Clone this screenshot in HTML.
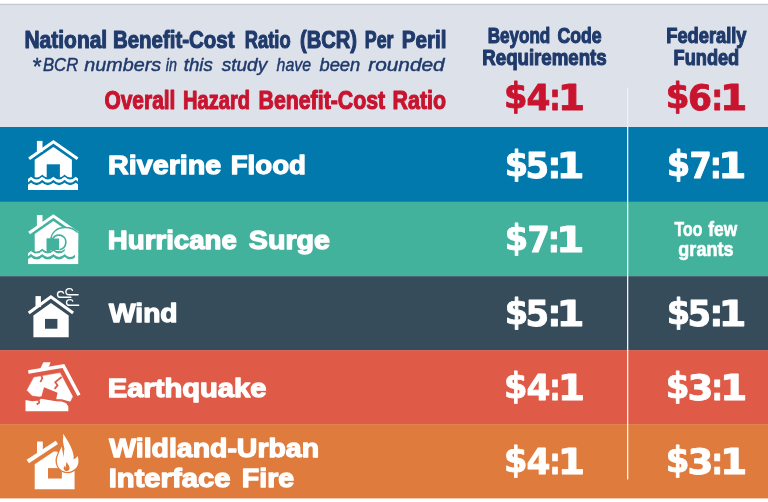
<!DOCTYPE html>
<html lang="en"><head><meta charset="utf-8">
<title>National Benefit-Cost Ratio (BCR) Per Peril</title>
<style>html,body{margin:0;padding:0;background:#fff;}body{width:768px;height:502px;overflow:hidden;}svg{display:block;}</style>
</head><body>
<svg width="768" height="502" viewBox="0 0 768 502">
<rect x="0" y="0" width="768" height="502" fill="#ffffff"/>
<rect x="0" y="3.8" width="768" height="124" fill="#dde1ea"/>
<rect x="0" y="3.8" width="768" height="1.4" fill="#c6cad1"/>
<rect x="0" y="127.0" width="768" height="75.00" fill="#0279ad"/>
<rect x="0" y="201.7" width="768" height="74.80" fill="#43b29d"/>
<rect x="0" y="276.2" width="768" height="74.30" fill="#364c5b"/>
<rect x="0" y="350.2" width="768" height="74.30" fill="#df5a47"/>
<rect x="0" y="424.2" width="768" height="74.60" fill="#df7b3c"/>
<rect x="0" y="498.5" width="768" height="4" fill="#ffffff"/>
<rect x="627" y="87.5" width="1.3" height="39.5" fill="#eef0f5"/>
<rect x="627" y="127" width="1.3" height="352.5" fill="#ffffff" fill-opacity="0.92"/>
<text y="48.00" font-size="23.90" fill="#1f3a6b" font-weight="bold" stroke="#1f3a6b" stroke-width="1.1" stroke-linejoin="round" font-family='"Liberation Sans", sans-serif'><tspan x="24.43" textLength="82.78" lengthAdjust="spacingAndGlyphs">National</tspan> <tspan x="112.92" textLength="121.58" lengthAdjust="spacingAndGlyphs">Benefit-Cost</tspan> <tspan x="244.71" textLength="45.93" lengthAdjust="spacingAndGlyphs">Ratio</tspan> <tspan x="299.94" textLength="57.12" lengthAdjust="spacingAndGlyphs">(BCR)</tspan> <tspan x="364.75" textLength="28.72" lengthAdjust="spacingAndGlyphs">Per</tspan> <tspan x="401.66" textLength="44.75" lengthAdjust="spacingAndGlyphs">Peril</tspan></text>
<text y="71.00" font-size="18.50" fill="#1f3a6b" font-weight="normal" font-style="italic" stroke="#1f3a6b" stroke-width="0.45" stroke-linejoin="round" font-family='"Liberation Sans", sans-serif'><tspan x="31.75" dy="4.0" font-size="24.0" textLength="8.93" lengthAdjust="spacingAndGlyphs">*</tspan><tspan x="42.92" dy="-4.0" textLength="35.34" lengthAdjust="spacingAndGlyphs">BCR</tspan> <tspan x="84.38" textLength="76.80" lengthAdjust="spacingAndGlyphs">numbers</tspan> <tspan x="165.87" textLength="11.16" lengthAdjust="spacingAndGlyphs">in</tspan> <tspan x="183.78" textLength="29.09" lengthAdjust="spacingAndGlyphs">this</tspan> <tspan x="221.68" textLength="45.55" lengthAdjust="spacingAndGlyphs">study</tspan> <tspan x="276.55" textLength="34.50" lengthAdjust="spacingAndGlyphs">have</tspan> <tspan x="319.45" textLength="40.79" lengthAdjust="spacingAndGlyphs">been</tspan> <tspan x="368.26" textLength="76.44" lengthAdjust="spacingAndGlyphs">rounded</tspan></text>
<text y="109.00" font-size="25.60" fill="#c8142f" font-weight="bold" stroke="#c8142f" stroke-width="1.1" stroke-linejoin="round" font-family='"Liberation Sans", sans-serif'><tspan x="104.41" textLength="71.03" lengthAdjust="spacingAndGlyphs">Overall</tspan> <tspan x="183.09" textLength="67.00" lengthAdjust="spacingAndGlyphs">Hazard</tspan> <tspan x="258.51" textLength="126.69" lengthAdjust="spacingAndGlyphs">Benefit-Cost</tspan> <tspan x="392.61" textLength="53.45" lengthAdjust="spacingAndGlyphs">Ratio</tspan></text>
<text y="43.00" font-size="21.20" fill="#1f3a6b" font-weight="bold" stroke="#1f3a6b" stroke-width="1.1" stroke-linejoin="round" font-family='"Liberation Sans", sans-serif'><tspan x="487.70" textLength="62.55" lengthAdjust="spacingAndGlyphs">Beyond</tspan> <tspan x="557.44" textLength="44.08" lengthAdjust="spacingAndGlyphs">Code</tspan></text>
<text y="65.00" font-size="21.20" fill="#1f3a6b" font-weight="bold" stroke="#1f3a6b" stroke-width="1.1" stroke-linejoin="round" font-family='"Liberation Sans", sans-serif'><tspan x="482.29" textLength="124.43" lengthAdjust="spacingAndGlyphs">Requirements</tspan></text>
<text y="43.00" font-size="21.20" fill="#1f3a6b" font-weight="bold" stroke="#1f3a6b" stroke-width="1.1" stroke-linejoin="round" font-family='"Liberation Sans", sans-serif'><tspan x="666.21" textLength="80.35" lengthAdjust="spacingAndGlyphs">Federally</tspan></text>
<text y="65.00" font-size="21.20" fill="#1f3a6b" font-weight="bold" stroke="#1f3a6b" stroke-width="1.1" stroke-linejoin="round" font-family='"Liberation Sans", sans-serif'><tspan x="673.62" textLength="65.62" lengthAdjust="spacingAndGlyphs">Funded</tspan></text>
<text y="110.00" font-size="35.20" fill="#c8142f" font-weight="bold" stroke="#c8142f" stroke-width="0.8" stroke-linejoin="round" font-family='"DejaVu Sans Condensed", "DejaVu Sans", "Liberation Sans", sans-serif'><tspan x="504.07" dy="-2.0" textLength="23.52" lengthAdjust="spacingAndGlyphs">$</tspan><tspan x="526.42" dy="2.0" textLength="23.95" lengthAdjust="spacingAndGlyphs">4</tspan><tspan x="549.54" textLength="11.02" lengthAdjust="spacingAndGlyphs">:</tspan><tspan x="557.82" textLength="27.34" lengthAdjust="spacingAndGlyphs">1</tspan></text>
<text y="110.00" font-size="35.20" fill="#c8142f" font-weight="bold" stroke="#c8142f" stroke-width="0.8" stroke-linejoin="round" font-family='"DejaVu Sans Condensed", "DejaVu Sans", "Liberation Sans", sans-serif'><tspan x="665.84" dy="-2.0" textLength="23.77" lengthAdjust="spacingAndGlyphs">$</tspan><tspan x="687.99" dy="2.0" textLength="23.96" lengthAdjust="spacingAndGlyphs">6</tspan><tspan x="711.61" textLength="11.47" lengthAdjust="spacingAndGlyphs">:</tspan><tspan x="720.02" textLength="27.34" lengthAdjust="spacingAndGlyphs">1</tspan></text>
<text y="174.00" font-size="26.50" fill="#ffffff" font-weight="bold" stroke="#ffffff" stroke-width="1.3" stroke-linejoin="round" font-family='"Liberation Sans", sans-serif'><tspan x="108.11" textLength="113.21" lengthAdjust="spacingAndGlyphs">Riverine</tspan> <tspan x="230.68" textLength="75.25" lengthAdjust="spacingAndGlyphs">Flood</tspan></text>
<text y="249.00" font-size="26.50" fill="#ffffff" font-weight="bold" stroke="#ffffff" stroke-width="1.3" stroke-linejoin="round" font-family='"Liberation Sans", sans-serif'><tspan x="107.78" textLength="129.10" lengthAdjust="spacingAndGlyphs">Hurricane</tspan> <tspan x="248.79" textLength="81.24" lengthAdjust="spacingAndGlyphs">Surge</tspan></text>
<text y="322.00" font-size="26.50" fill="#ffffff" font-weight="bold" stroke="#ffffff" stroke-width="1.3" stroke-linejoin="round" font-family='"Liberation Sans", sans-serif'><tspan x="108.98" textLength="68.59" lengthAdjust="spacingAndGlyphs">Wind</tspan></text>
<text y="397.00" font-size="26.50" fill="#ffffff" font-weight="bold" stroke="#ffffff" stroke-width="1.3" stroke-linejoin="round" font-family='"Liberation Sans", sans-serif'><tspan x="107.68" textLength="158.86" lengthAdjust="spacingAndGlyphs">Earthquake</tspan></text>
<text y="457.00" font-size="26.50" fill="#ffffff" font-weight="bold" stroke="#ffffff" stroke-width="1.3" stroke-linejoin="round" font-family='"Liberation Sans", sans-serif'><tspan x="109.18" textLength="209.87" lengthAdjust="spacingAndGlyphs">Wildland-Urban</tspan></text>
<text y="487.00" font-size="26.50" fill="#ffffff" font-weight="bold" stroke="#ffffff" stroke-width="1.3" stroke-linejoin="round" font-family='"Liberation Sans", sans-serif'><tspan x="108.68" textLength="121.75" lengthAdjust="spacingAndGlyphs">Interface</tspan> <tspan x="241.82" textLength="52.40" lengthAdjust="spacingAndGlyphs">Fire</tspan></text>
<text y="178.00" font-size="35.20" fill="#ffffff" font-weight="bold" stroke="#ffffff" stroke-width="0.8" stroke-linejoin="round" font-family='"DejaVu Sans Condensed", "DejaVu Sans", "Liberation Sans", sans-serif'><tspan x="504.74" dy="-2.0" textLength="23.52" lengthAdjust="spacingAndGlyphs">$</tspan><tspan x="525.64" dy="2.0" textLength="23.58" lengthAdjust="spacingAndGlyphs">5</tspan><tspan x="547.56" textLength="13.72" lengthAdjust="spacingAndGlyphs">:</tspan><tspan x="556.54" textLength="28.02" lengthAdjust="spacingAndGlyphs">1</tspan></text>
<text y="178.00" font-size="35.20" fill="#ffffff" font-weight="bold" stroke="#ffffff" stroke-width="0.8" stroke-linejoin="round" font-family='"DejaVu Sans Condensed", "DejaVu Sans", "Liberation Sans", sans-serif'><tspan x="666.87" dy="-2.0" textLength="23.52" lengthAdjust="spacingAndGlyphs">$</tspan><tspan x="689.62" dy="2.0" textLength="22.26" lengthAdjust="spacingAndGlyphs">7</tspan><tspan x="709.84" textLength="12.26" lengthAdjust="spacingAndGlyphs">:</tspan><tspan x="717.98" textLength="28.49" lengthAdjust="spacingAndGlyphs">1</tspan></text>
<text y="252.00" font-size="35.20" fill="#ffffff" font-weight="bold" stroke="#ffffff" stroke-width="0.8" stroke-linejoin="round" font-family='"DejaVu Sans Condensed", "DejaVu Sans", "Liberation Sans", sans-serif'><tspan x="504.87" dy="-2.0" textLength="23.52" lengthAdjust="spacingAndGlyphs">$</tspan><tspan x="527.62" dy="2.0" textLength="22.26" lengthAdjust="spacingAndGlyphs">7</tspan><tspan x="547.84" textLength="12.26" lengthAdjust="spacingAndGlyphs">:</tspan><tspan x="555.98" textLength="28.49" lengthAdjust="spacingAndGlyphs">1</tspan></text>
<text y="326.00" font-size="35.20" fill="#ffffff" font-weight="bold" stroke="#ffffff" stroke-width="0.8" stroke-linejoin="round" font-family='"DejaVu Sans Condensed", "DejaVu Sans", "Liberation Sans", sans-serif'><tspan x="504.74" dy="-2.0" textLength="23.52" lengthAdjust="spacingAndGlyphs">$</tspan><tspan x="525.64" dy="2.0" textLength="23.58" lengthAdjust="spacingAndGlyphs">5</tspan><tspan x="547.56" textLength="13.72" lengthAdjust="spacingAndGlyphs">:</tspan><tspan x="556.54" textLength="28.02" lengthAdjust="spacingAndGlyphs">1</tspan></text>
<text y="326.00" font-size="35.20" fill="#ffffff" font-weight="bold" stroke="#ffffff" stroke-width="0.8" stroke-linejoin="round" font-family='"DejaVu Sans Condensed", "DejaVu Sans", "Liberation Sans", sans-serif'><tspan x="666.74" dy="-2.0" textLength="23.52" lengthAdjust="spacingAndGlyphs">$</tspan><tspan x="687.64" dy="2.0" textLength="23.58" lengthAdjust="spacingAndGlyphs">5</tspan><tspan x="709.56" textLength="13.72" lengthAdjust="spacingAndGlyphs">:</tspan><tspan x="718.54" textLength="28.02" lengthAdjust="spacingAndGlyphs">1</tspan></text>
<text y="400.00" font-size="35.20" fill="#ffffff" font-weight="bold" stroke="#ffffff" stroke-width="0.8" stroke-linejoin="round" font-family='"DejaVu Sans Condensed", "DejaVu Sans", "Liberation Sans", sans-serif'><tspan x="504.07" dy="-2.0" textLength="23.52" lengthAdjust="spacingAndGlyphs">$</tspan><tspan x="526.42" dy="2.0" textLength="23.95" lengthAdjust="spacingAndGlyphs">4</tspan><tspan x="549.54" textLength="11.02" lengthAdjust="spacingAndGlyphs">:</tspan><tspan x="557.82" textLength="27.34" lengthAdjust="spacingAndGlyphs">1</tspan></text>
<text y="400.00" font-size="35.20" fill="#ffffff" font-weight="bold" stroke="#ffffff" stroke-width="0.8" stroke-linejoin="round" font-family='"DejaVu Sans Condensed", "DejaVu Sans", "Liberation Sans", sans-serif'><tspan x="665.74" dy="-2.0" textLength="23.77" lengthAdjust="spacingAndGlyphs">$</tspan><tspan x="687.42" dy="2.0" textLength="25.86" lengthAdjust="spacingAndGlyphs">3</tspan><tspan x="711.61" textLength="11.47" lengthAdjust="spacingAndGlyphs">:</tspan><tspan x="720.12" textLength="27.34" lengthAdjust="spacingAndGlyphs">1</tspan></text>
<text y="474.00" font-size="35.20" fill="#ffffff" font-weight="bold" stroke="#ffffff" stroke-width="0.8" stroke-linejoin="round" font-family='"DejaVu Sans Condensed", "DejaVu Sans", "Liberation Sans", sans-serif'><tspan x="504.07" dy="-2.0" textLength="23.52" lengthAdjust="spacingAndGlyphs">$</tspan><tspan x="526.42" dy="2.0" textLength="23.95" lengthAdjust="spacingAndGlyphs">4</tspan><tspan x="549.54" textLength="11.02" lengthAdjust="spacingAndGlyphs">:</tspan><tspan x="557.82" textLength="27.34" lengthAdjust="spacingAndGlyphs">1</tspan></text>
<text y="474.00" font-size="35.20" fill="#ffffff" font-weight="bold" stroke="#ffffff" stroke-width="0.8" stroke-linejoin="round" font-family='"DejaVu Sans Condensed", "DejaVu Sans", "Liberation Sans", sans-serif'><tspan x="665.74" dy="-2.0" textLength="23.77" lengthAdjust="spacingAndGlyphs">$</tspan><tspan x="687.42" dy="2.0" textLength="25.86" lengthAdjust="spacingAndGlyphs">3</tspan><tspan x="711.61" textLength="11.47" lengthAdjust="spacingAndGlyphs">:</tspan><tspan x="720.12" textLength="27.34" lengthAdjust="spacingAndGlyphs">1</tspan></text>
<text y="236.00" font-size="20.60" fill="#ffffff" font-weight="bold" stroke="#ffffff" stroke-width="0.6" stroke-linejoin="round" font-family='"Liberation Sans", sans-serif'><tspan x="674.54" textLength="27.76" lengthAdjust="spacingAndGlyphs">Too</tspan> <tspan x="708.30" textLength="28.85" lengthAdjust="spacingAndGlyphs">few</tspan></text>
<text y="256.00" font-size="20.60" fill="#ffffff" font-weight="bold" stroke="#ffffff" stroke-width="0.6" stroke-linejoin="round" font-family='"Liberation Sans", sans-serif'><tspan x="678.33" textLength="55.22" lengthAdjust="spacingAndGlyphs">grants</tspan></text>
<g>
<clipPath id="cw1"><rect x="28.1" y="160.00" width="50" height="30.10"/></clipPath>
<rect x="36.9" y="140.90" width="5.6" height="11" fill="#fff"/>
<polyline points="29.1,158.70 53.4,141.85 77.6,158.70" fill="none" stroke="#fff" stroke-width="3.1" stroke-linejoin="miter"/>
<polygon points="53.4,146.90 71.9,159.70 71.9,179.00 34.7,179.00 34.7,159.70" fill="#fff"/>
<rect x="46.7" y="164.30" width="13.2" height="15" fill="#0279ad"/>
<path d="M19.80,175.90 Q25.40,181.30 31.00,175.90 Q36.60,181.30 42.20,175.90 Q47.80,181.30 53.40,175.90 Q59.00,181.30 64.60,175.90 Q70.20,181.30 75.80,175.90 Q81.40,181.30 87.00,175.90" fill="none" stroke="#0279ad" stroke-width="1.9" clip-path="url(#cw1)"/>
<path d="M19.80,176.70 Q25.40,182.10 31.00,176.70 Q36.60,182.10 42.20,176.70 Q47.80,182.10 53.40,176.70 Q59.00,182.10 64.60,176.70 Q70.20,182.10 75.80,176.70 Q81.40,182.10 87.00,176.70 L87.00,190.10 L19.8,190.10 Z" fill="#fff" clip-path="url(#cw1)"/>
<path d="M19.80,181.30 Q25.40,186.70 31.00,181.30 Q36.60,186.70 42.20,181.30 Q47.80,186.70 53.40,181.30 Q59.00,186.70 64.60,181.30 Q70.20,186.70 75.80,181.30 Q81.40,186.70 87.00,181.30" fill="none" stroke="#0279ad" stroke-width="2.2" clip-path="url(#cw1)"/>
</g>
<g>
<clipPath id="cw2"><rect x="28.1" y="234.20" width="50" height="30.10"/></clipPath>
<rect x="36.9" y="215.10" width="5.6" height="11" fill="#fff"/>
<polyline points="29.1,232.90 53.4,216.05 77.6,232.90" fill="none" stroke="#fff" stroke-width="3.1" stroke-linejoin="miter"/>
<polygon points="53.4,221.10 71.9,233.90 71.9,253.20 34.7,253.20 34.7,233.90" fill="#fff"/>
<rect x="46.7" y="238.50" width="13.2" height="15" fill="#43b29d"/>
<path d="M19.80,250.10 Q25.40,255.50 31.00,250.10 Q36.60,255.50 42.20,250.10 Q47.80,255.50 53.40,250.10 Q59.00,255.50 64.60,250.10 Q70.20,255.50 75.80,250.10 Q81.40,255.50 87.00,250.10" fill="none" stroke="#43b29d" stroke-width="1.9" clip-path="url(#cw2)"/>
<path d="M19.80,250.90 Q25.40,256.30 31.00,250.90 Q36.60,256.30 42.20,250.90 Q47.80,256.30 53.40,250.90 Q59.00,256.30 64.60,250.90 Q70.20,256.30 75.80,250.90 Q81.40,256.30 87.00,250.90 L87.00,264.30 L19.8,264.30 Z" fill="#fff" clip-path="url(#cw2)"/>
<path d="M19.80,255.50 Q25.40,260.90 31.00,255.50 Q36.60,260.90 42.20,255.50 Q47.80,260.90 53.40,255.50 Q59.00,260.90 64.60,255.50 Q70.20,260.90 75.80,255.50 Q81.40,260.90 87.00,255.50" fill="none" stroke="#43b29d" stroke-width="2.2" clip-path="url(#cw2)"/>
</g>
<g>
<path d="M50.6,240.5 C50.6,232 57,227.3 65.5,227.3 C71,227.3 75.5,229.6 78.4,233.6 L78.1,263.9 L62,263.9 L62,251 L50.6,251 Z" fill="#fff" stroke="none"/>
<path d="M50.9,239.6 C51.3,232 57.2,227.6 65.3,227.6 C70.6,227.6 75,229.6 77.6,232.6" fill="none" stroke="#43b29d" stroke-width="1.5"/>
<rect x="46.7" y="238.50" width="12.4" height="11.6" fill="#43b29d"/>
<path d="M52.4,238.9 C54.5,235.6 58.2,234.6 61,235.4 C64.2,236.3 66.2,239.4 65.8,243 C65.4,246.4 63.4,248.8 60.2,249.6" fill="none" stroke="#43b29d" stroke-width="1.7" stroke-linecap="round"/>
<clipPath id="cw2b"><rect x="34.7" y="244.2" width="30" height="12"/></clipPath>
<path d="M19.80,250.10 Q25.40,255.50 31.00,250.10 Q36.60,255.50 42.20,250.10 Q47.80,255.50 53.40,250.10 Q59.00,255.50 64.60,250.10 Q70.20,255.50 75.80,250.10 Q81.40,255.50 87.00,250.10" fill="none" stroke="#43b29d" stroke-width="1.9" clip-path="url(#cw2b)"/>
<path d="M19.80,250.90 Q25.40,256.30 31.00,250.90 Q36.60,256.30 42.20,250.90 Q47.80,256.30 53.40,250.90 Q59.00,256.30 64.60,250.90 Q70.20,256.30 75.80,250.90 Q81.40,256.30 87.00,250.90 L87.00,255.20 L19.8,255.20 Z" fill="#fff" clip-path="url(#cw2b)"/>
<clipPath id="cw2c"><rect x="28.1" y="244.2" width="47" height="20"/></clipPath>
<path d="M19.80,255.50 Q25.40,260.90 31.00,255.50 Q36.60,260.90 42.20,255.50 Q47.80,260.90 53.40,255.50 Q59.00,260.90 64.60,255.50 Q70.20,260.90 75.80,255.50 Q81.40,260.90 87.00,255.50" fill="none" stroke="#43b29d" stroke-width="2.2" clip-path="url(#cw2c)"/>
</g>
<g>
<rect x="35.5" y="296.1" width="5.4" height="11" fill="#fff"/>
<polyline points="28.7,313.0 50.9,296.85 73.1,313.0" fill="none" stroke="#fff" stroke-width="3.1" stroke-linejoin="miter"/>
<polygon points="50.9,303.1 68.7,315.6 68.7,337.3 33.4,337.3 33.4,315.6" fill="#fff"/>
<rect x="45.0" y="318.9" width="12.4" height="9.8" fill="#364c5b"/>
<path d="M63.5,293.1 C63.2,291.9 61.8,291.4 60.4,291.5 C58.6,291.7 57.5,292.9 57.5,294.4 C57.5,296.2 58.7,297.3 60.6,297.3 L70.9,297.3" fill="none" stroke="#fff" stroke-width="1.4" stroke-linecap="round"/>
<path d="M72.4,290.3 C72.0,289.0 70.7,288.5 69.3,288.6 C67.3,288.7 65.9,290.0 65.9,291.7 C65.9,293.5 67.2,294.7 69.2,294.7 L78.1,294.7" fill="none" stroke="#fff" stroke-width="1.4" stroke-linecap="round"/>
<path d="M72.7,301.1 C72.4,300.0 71.2,299.5 69.9,299.6 C67.9,299.7 66.5,300.8 66.5,302.4 C66.5,304.2 67.8,305.3 69.8,305.3 L78.7,305.3" fill="none" stroke="#fff" stroke-width="1.4" stroke-linecap="round"/>
</g>
<g transform="translate(24,360) scale(0.10761)">
<polygon points="152,80 180,22 246,20 236,50 226,70" fill="#fff"/>
<polyline points="40,112 366,56 511,328" fill="none" stroke="#fff" stroke-width="32" stroke-linejoin="miter"/>
<path d="M92,162 L335,120 L452,340 L430,384 L300,366 L150,340 L75,330 L28,282 Z" fill="#fff" stroke="#fff" stroke-width="4" stroke-linejoin="round"/>
<polyline points="160,140 170,170 152,205" fill="none" stroke="#df5a47" stroke-width="16" stroke-linejoin="miter"/>
<polyline points="350,158 290,205 312,236 284,268" fill="none" stroke="#df5a47" stroke-width="16" stroke-linejoin="miter"/>
<polygon points="186,254 312,304 296,378 158,352" fill="#df5a47"/>
<path d="M14,372 L75,384 L128,378 L160,360 L300,384 L350,386 L392,402 L412,432 L412,476 L14,476 Z" fill="#fff"/>
<path d="M8,352 L75,368 L125,362 L158,346 L296,372 L350,372 L400,388 L440,410" fill="none" stroke="#df5a47" stroke-width="14" stroke-linejoin="round"/>
<polyline points="134,362 142,396 118,414" fill="none" stroke="#df5a47" stroke-width="16" stroke-linejoin="miter"/>
</g>
<g transform="translate(22,430) scale(0.11553)">
<rect x="130" y="100" width="50" height="100" fill="#fff"/>
<polygon points="40,258 292,92 312,122 60,288" fill="#fff"/>
<polygon points="110,296 275,186 300,186 455,300 455,512 110,512" fill="#fff"/>
<rect x="225" y="330" width="120" height="90" fill="#df7b3c"/>
</g>
<g transform="translate(50,430) scale(0.09174)">
<path d="M140,38 C168,75 200,125 225,180 C247,228 262,275 258,318 C275,312 292,300 300,283 C318,330 312,385 280,418 C255,445 220,458 190,458 C150,458 105,435 85,390 C68,350 72,300 92,265 C100,240 115,210 128,180 C134,215 140,250 148,300 C150,260 152,230 158,205 C150,170 138,130 142,95 C146,70 145,55 140,38 Z" fill="#fff" stroke="#df7b3c" stroke-width="26" stroke-linejoin="round" paint-order="stroke"/>
<path d="M182,350 C195,375 216,395 213,420 C211,440 196,449 182,449 C165,449 149,438 149,418 C149,405 157,395 165,386 C166,400 170,408 176,408 C172,390 174,370 182,350 Z" fill="#df7b3c"/>
</g>
</svg>
</body></html>
